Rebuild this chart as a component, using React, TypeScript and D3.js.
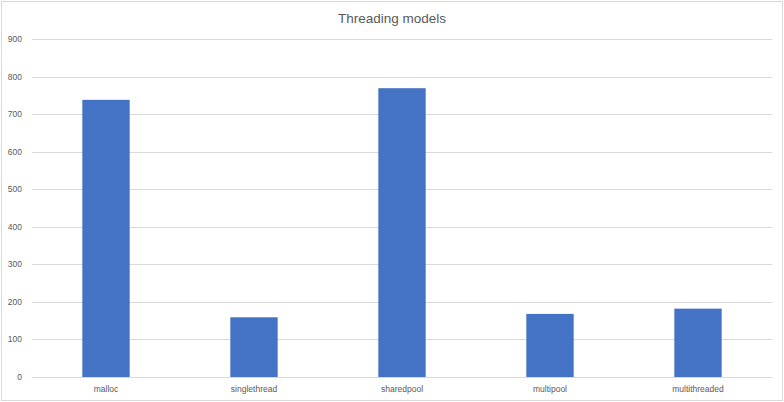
import React from "react";
import * as d3 from "d3";

const categories = ["malloc", "singlethread", "sharedpool", "multipool", "multithreaded"];
const values = [738, 159, 769, 168, 182];
const yTicks = [0, 100, 200, 300, 400, 500, 600, 700, 800, 900];
const title = "Threading models";

export default function App() {
  const W = 784, H = 402;
  const left = 32, right = 772, top = 39, bottom = 377;
  const x = d3.scaleBand().domain(categories).range([left, right]).paddingInner(0.68).paddingOuter(0.34);
  const y = d3.scaleLinear().domain([0, 900]).range([bottom, top]);
  const font = "'Liberation Sans', Arial, sans-serif";
  return (
    <svg width={W} height={H} style={{ position: "fixed", left: 0, top: 0, background: "#fff" }}>
      <rect x={1.5} y={1.5} width={W - 3} height={H - 3} fill="#fff" stroke="#d9d9d9" />
      <text x={392} y={23} textAnchor="middle" fontFamily={font} fontSize={13.5} fill="#595959">{title}</text>
      {yTicks.map((t) => (
        <g key={t}>
          <line x1={left} x2={right} y1={Math.round(y(t)) + 0.5} y2={Math.round(y(t)) + 0.5} stroke="#d9d9d9" />
          <text x={22} y={y(t) + 3} textAnchor="end" fontFamily={font} fontSize={8.5} fill="#595959">{t}</text>
        </g>
      ))}
      {categories.map((c, i) => (
        <g key={c}>
          <rect x={x(c)!} y={y(values[i])} width={x.bandwidth()} height={y(0) - y(values[i])} fill="#4472c4" />
          <text x={x(c)! + x.bandwidth() / 2} y={392} textAnchor="middle" fontFamily={font} fontSize={8.5} fill="#595959">{c}</text>
        </g>
      ))}
    </svg>
  );
}
